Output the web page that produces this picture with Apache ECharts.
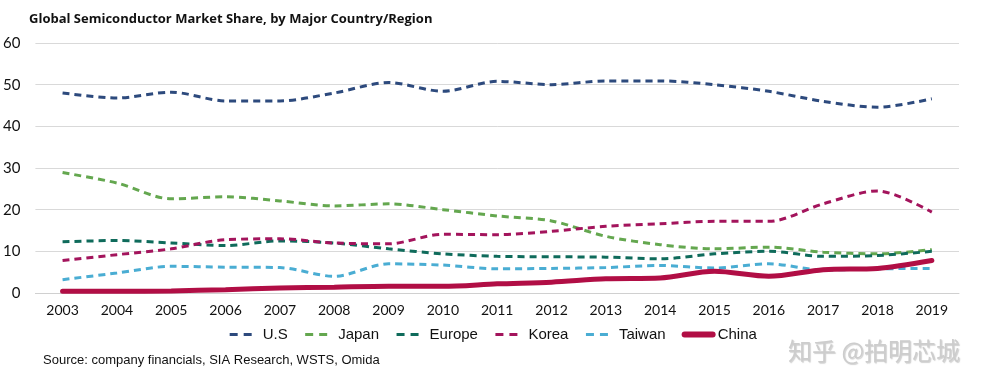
<!DOCTYPE html>
<html>
<head>
<meta charset="utf-8">
<script src="https://cdn.jsdelivr.net/npm/echarts@6/dist/echarts.min.js"></script>
<style>
html,body{margin:0;padding:0;background:#fff;}
#c{width:985px;height:388px;}
</style>
</head>
<body>
<div id="c"></div>
<script>
const years = ['2003','2004','2005','2006','2007','2008','2009','2010','2011','2012','2013','2014','2015','2016','2017','2018','2019'];
const us     = [48.0,46.8,48.2,46.1,46.1,48.0,50.5,48.4,50.8,50.0,50.9,50.9,50.0,48.4,46.0,44.6,46.6];
const japan  = [28.9,26.4,22.6,23.1,22.1,20.9,21.4,20.0,18.5,17.3,13.6,11.6,10.6,11.0,9.8,9.4,10.4];
const europe = [12.3,12.6,12.0,11.4,12.5,12.0,10.6,9.4,8.8,8.7,8.6,8.2,9.4,10.0,8.8,9.0,10.0];
const korea  = [7.8,9.2,10.6,12.8,13.0,12.0,11.8,14.1,14.0,14.8,16.0,16.6,17.2,17.2,21.4,24.5,19.4];
const taiwan = [3.2,4.8,6.4,6.2,6.1,4.0,7.0,6.7,5.8,5.9,6.1,6.6,6.0,7.0,5.5,5.8,5.9];
const china  = [0.4,0.4,0.5,0.8,1.2,1.4,1.6,1.6,2.2,2.6,3.4,3.6,5.2,4.0,5.6,5.9,7.8];
const legendNames = ['U.S','Japan','Europe','Korea','Taiwan','China'];
const yTicks = [0,10,20,30,40,50,60];

const chart = echarts.init(document.getElementById('c'), null, {renderer:'canvas'});
const font = 'Lato, "Noto Sans", sans-serif';
function dashed(name, data, color){
  return {name, type:'line', data, smooth:0.3, symbol:'none',
    lineStyle:{color, width:3, type:[7,5], cap:'butt'}, itemStyle:{color}};
}
chart.setOption({
  animation:false,
  title:[{text:'Global Semiconductor Market Share, by Major Country/Region', left:24, top:8,
    textStyle:{fontFamily:'"Open Sans", "Liberation Sans", sans-serif', fontWeight:'bold', fontSize:13, color:'#111'}},
    {text:'Source: company financials, SIA Research, WSTS, Omida', left:38, top:349,
    textStyle:{fontFamily:'"Liberation Sans", sans-serif', fontWeight:'normal', fontSize:13, color:'#111'}},
    {text:'知乎 @拍明芯城', left:783, top:334,
    textStyle:{fontFamily:'"Noto Sans CJK SC", sans-serif', fontWeight:'normal', fontSize:24, color:'#cdcdcd',
      textShadowColor:'rgba(120,120,120,0.35)', textShadowBlur:1, textShadowOffsetX:1, textShadowOffsetY:1}}],
  grid:{left:35, right:26, top:43, bottom:95, containLabel:false},
  legend:{bottom:41, left:'center', itemWidth:28, itemHeight:10, itemGap:16,
    itemStyle:{opacity:0},
    textStyle:{fontFamily:'"Liberation Sans", sans-serif', fontSize:15, color:'#111'},
    data:legendNames.map(n => n === 'China'
      ? {name:n, lineStyle:{width:6, cap:'round'}}
      : {name:n, lineStyle:{type:[8,6], width:3}})},
  xAxis:{type:'category', data:years, boundaryGap:true,
    axisLine:{show:true, lineStyle:{color:'#d0d0d0', width:1}}, axisTick:{show:false},
    axisLabel:{fontFamily:font, fontSize:14, color:'#111', margin:10}},
  yAxis:{type:'value', min:0, max:60, interval:10,
    axisLine:{show:false}, axisTick:{show:false},
    axisLabel:{fontFamily:font, fontSize:15, color:'#111', margin:15,
      formatter:v=> yTicks.includes(v)? String(v):''},
    splitLine:{lineStyle:{color:'#d9d9d9', width:1}}},
  series:[
    dashed('U.S', us, '#2d4a7d'),
    dashed('Japan', japan, '#64a74f'),
    dashed('Europe', europe, '#0f6b5b'),
    dashed('Korea', korea, '#a3145c'),
    dashed('Taiwan', taiwan, '#4aadd3'),
    {name:'China', type:'line', data:china, smooth:0.3, symbol:'none',
      lineStyle:{color:'#b10e45', width:5, cap:'round'}, itemStyle:{color:'#b10e45'}, z:5}
  ]
});
</script>
</body>
</html>
